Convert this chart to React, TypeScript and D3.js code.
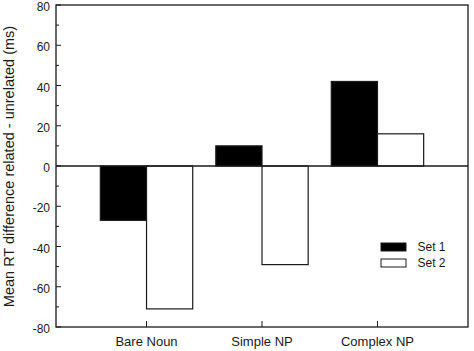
import React from "react";
import * as d3 from "d3";

const categories = ["Bare Noun", "Simple NP", "Complex NP"];
const seriesNames = ["Set 1", "Set 2"];
const set1 = [-27, 10, 42];
const set2 = [-71, -49, 16];
const yTicks = [-80, -60, -40, -20, 0, 20, 40, 60, 80];
const yLabel = "Mean RT difference related - unrelated (ms)";

const W = 474, H = 351;
const L = 56, R = 468, T = 5, B = 327;
const font = "Arial, 'Liberation Sans', Helvetica, sans-serif";
const ink = "#1a1a1a";

export default function App() {
  const y = d3.scaleLinear().domain([-80, 80]).range([B, T]);
  const x = d3.scaleBand<string>().domain(categories).range([L, R]).paddingInner(0).paddingOuter(0.284);
  const sub = d3.scaleBand<string>().domain(seriesNames).range([0, x.bandwidth() * 0.8]).paddingInner(0);
  const off = x.bandwidth() * 0.1;
  const minor = d3.range(-70, 80, 20);
  const data = [set1, set2];
  const fills = ["#000", "#fff"];
  return (
    <svg width={W} height={H} style={{ position: "absolute", left: 0, top: 0, background: "#fff" }} fontFamily={font}>
      <rect x={0} y={0} width={W} height={H} fill="#fff" />
      {data.map((vals, si) =>
        vals.map((v, ci) => {
          const x0 = (x(categories[ci]) as number) + off + (sub(seriesNames[si]) as number);
          const y0 = y(Math.max(0, v));
          const h = Math.abs(y(v) - y(0));
          return (
            <rect key={`${si}-${ci}`} x={x0} y={y0} width={sub.bandwidth()} height={h}
              fill={fills[si]} stroke={ink} strokeWidth={1.2} />
          );
        })
      )}
      <line x1={L} x2={R} y1={y(0)} y2={y(0)} stroke={ink} strokeWidth={1.3} />
      <rect x={L} y={T} width={R - L} height={B - T} fill="none" stroke={ink} strokeWidth={1.3} />
      {yTicks.map((t) => (
        <g key={t}>
          <line x1={L} x2={L + 5} y1={y(t)} y2={y(t)} stroke={ink} strokeWidth={1} />
          <text x={L - 6} y={y(t) + 2} dy="0.35em" textAnchor="end" fontSize={12} fill={ink}>{t}</text>
        </g>
      ))}
      {minor.map((t) => (
        <line key={t} x1={L} x2={L + 3} y1={y(t)} y2={y(t)} stroke={ink} strokeWidth={1} />
      ))}
      {categories.map((c) => {
        const cx = (x(c) as number) + x.bandwidth() / 2;
        return (
          <g key={c}>
            <line x1={cx} x2={cx} y1={B} y2={B - 6} stroke={ink} strokeWidth={1} />
            <text x={cx} y={346} textAnchor="middle" fontSize={13} fill={ink}>{c}</text>
          </g>
        );
      })}
      <text transform={`translate(14,${166.5}) rotate(-90)`} textAnchor="middle" fontSize={14.5} fill={ink}>{yLabel}</text>
      {seriesNames.map((s, i) => (
        <g key={s}>
          <rect x={381} y={243 + i * 16} width={25} height={8} fill={fills[i]} stroke={ink} strokeWidth={1} />
          <text x={417.5} y={251 + i * 16} fontSize={12} fill={ink}>{s}</text>
        </g>
      ))}
    </svg>
  );
}
